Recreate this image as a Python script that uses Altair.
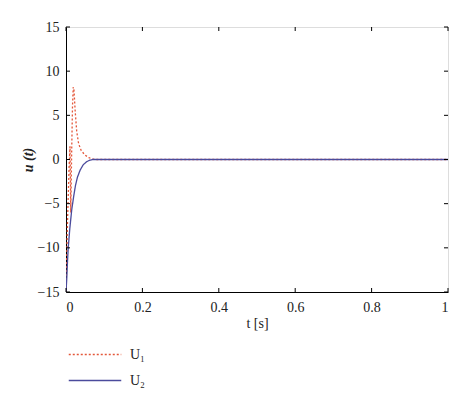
import altair as alt
import pandas as pd

# Data
t_u1 = [0, 0.004, 0.008, 0.0105, 0.0125, 0.0145, 0.017, 0.019, 0.021, 0.024, 0.028, 0.033, 0.04, 0.05, 0.06, 0.07, 0.08, 1.0]
u1 = [-15, -7, -1, 1.5, -6, 0, 6, 8.2, 7.8, 5.5, 3.2, 1.8, 1.0, 0.5, 0.2, 0.05, 0, 0]
t_u2 = [0, 0.002, 0.004, 0.006, 0.01, 0.015, 0.02, 0.025, 0.03, 0.037, 0.045, 0.054, 0.062, 0.07, 1.0]
u2 = [-15, -13.5, -11.5, -9.9, -7.8, -5.7, -4.2, -2.9, -2.0, -1.2, -0.6, -0.25, -0.08, 0, 0]
series_names = ["U\u2081", "U\u2082"]
series_colors = ["#e4573a", "#4b4b9c"]
x_ticks = [0, 0.2, 0.4, 0.6, 0.8, 1.0]
y_ticks = [-15, -10, -5, 0, 5, 10, 15]

rows = []
for i, (tt, vv) in enumerate([(t_u1, u1), (t_u2, u2)]):
    for k, (a, b) in enumerate(zip(tt, vv)):
        rows.append({"t": a, "u": b, "series": series_names[i], "order": k})
df = pd.DataFrame(rows)

W, H = 382, 265
FONT = "Liberation Serif"

xscale = alt.Scale(domain=[0, 1], nice=False)
yscale = alt.Scale(domain=[-15, 15], nice=False)

lines = alt.Chart(df).mark_line(strokeWidth=1.3, clip=True).encode(
    x=alt.X("t:Q", scale=xscale, title="t [s]",
            axis=alt.Axis(values=x_ticks, tickSize=0, labelPadding=8, domainColor="black",
                          labelFont=FONT, labelFontSize=14, labelColor="#222",
                          titleFont=FONT, titleFontSize=14, titleFontWeight="normal",
                          titleColor="#222", titlePadding=2, grid=False,
                          labelExpr="datum.value == 0 ? '0' : datum.value == 1 ? '1' : format(datum.value, '.1f')")),
    y=alt.Y("u:Q", scale=yscale, title="u (t)",
            axis=alt.Axis(values=y_ticks, tickSize=0, labelPadding=7, domainColor="black",
                          labelFont=FONT, labelFontSize=14, labelColor="#222",
                          titleFont=FONT, titleFontSize=14, titleFontWeight="bold",
                          titleFontStyle="italic", titleColor="#222", titlePadding=2, grid=False)),
    color=alt.Color("series:N", scale=alt.Scale(domain=series_names, range=series_colors),
                    legend=alt.Legend(title=None, orient="none", legendX=17.5, legendY=316,
                                      symbolType="M-2.5,0H2.5", symbolSize=441, symbolStrokeWidth=1.3,
                                      labelFont=FONT, labelFontSize=14, labelColor="#222",
                                      rowPadding=7, labelOffset=23.5)),
    strokeDash=alt.StrokeDash("series:N", scale=alt.Scale(domain=series_names, range=[[2, 2], [1, 0]]),
                              legend=None),
    order="order:Q",
)

xt = pd.DataFrame({"v": x_ticks})
yt = pd.DataFrame({"v": y_ticks})
tick_b = alt.Chart(xt).mark_rule(color="black").encode(x=alt.X("v:Q", scale=xscale), y=alt.value(H), y2=alt.value(H - 4))
tick_t = alt.Chart(xt).mark_rule(color="black").encode(x=alt.X("v:Q", scale=xscale), y=alt.value(0), y2=alt.value(4))
tick_l = alt.Chart(yt).mark_rule(color="black").encode(y=alt.Y("v:Q", scale=yscale), x=alt.value(0), x2=alt.value(4))
tick_r = alt.Chart(yt).mark_rule(color="black").encode(y=alt.Y("v:Q", scale=yscale), x=alt.value(W), x2=alt.value(W - 4))

chart = alt.layer(lines, tick_b, tick_t, tick_l, tick_r).properties(
    width=W, height=H,
    autosize=alt.AutoSizeParams(type="none"),
    padding={"left": 58, "top": 19, "right": 18, "bottom": 112},
).configure_view(stroke="black", strokeWidth=1.2).configure(background="white")

chart.save("out.html", embed_options={"renderer": "svg", "actions": False})
